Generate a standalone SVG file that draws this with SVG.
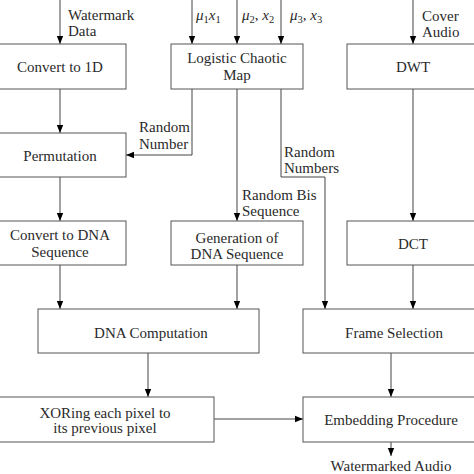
<svg xmlns="http://www.w3.org/2000/svg" width="474" height="474" viewBox="0 0 474 474">
<style>
.box{fill:#fff;stroke:#555;stroke-width:1}
.t{font-family:"Liberation Serif","Times New Roman","DejaVu Serif",serif;font-size:15px;fill:#2a2a2a;text-anchor:middle}
.l{font-family:"Liberation Serif","Times New Roman","DejaVu Serif",serif;font-size:15px;fill:#2a2a2a}
.m{font-family:"Liberation Serif","Times New Roman","DejaVu Serif",serif;font-size:15px;fill:#2a2a2a;font-style:italic}
.s{font-size:10.5px;font-style:normal}
.c{fill:none;stroke:#444;stroke-width:1}
</style>
<defs>
<marker id="ah" markerWidth="8" markerHeight="8" refX="8" refY="4" orient="auto" markerUnits="userSpaceOnUse" viewBox="0 0 8 8">
<path d="M0,0.8 L8,4 L0,7.2 Z" fill="#000"/>
</marker>
</defs>
<rect width="474" height="474" fill="#fff"/>
<g id="connectors">
<path class="c" d="M60,0 V44" marker-end="url(#ah)"/>
<path class="c" d="M192,0 V44" marker-end="url(#ah)"/>
<path class="c" d="M237,0 V44" marker-end="url(#ah)"/>
<path class="c" d="M281,0 V44" marker-end="url(#ah)"/>
<path class="c" d="M413,0 V44" marker-end="url(#ah)"/>
<path class="c" d="M60,89 V133" marker-end="url(#ah)"/>
<path class="c" d="M192,89 V155 H126" marker-end="url(#ah)"/>
<path class="c" d="M237,89 V221" marker-end="url(#ah)"/>
<path class="c" d="M281,89 V177 H325 V309" marker-end="url(#ah)"/>
<path class="c" d="M413,89 V221" marker-end="url(#ah)"/>
<path class="c" d="M60,177 V221" marker-end="url(#ah)"/>
<path class="c" d="M60,265 V309" marker-end="url(#ah)"/>
<path class="c" d="M237,265 V309" marker-end="url(#ah)"/>
<path class="c" d="M413,265 V309" marker-end="url(#ah)"/>
<path class="c" d="M148,353 V397" marker-end="url(#ah)"/>
<path class="c" d="M391,353 V397" marker-end="url(#ah)"/>
<path class="c" d="M214,419 H303" marker-end="url(#ah)"/>
<path class="c" d="M391,442 V456" marker-end="url(#ah)"/>
</g>
<g id="labels">
<text class="l" x="68" y="20">Watermark</text>
<text class="l" x="68" y="36">Data</text>
<text class="m" x="196" y="20">μ<tspan class="s" dy="3">1</tspan><tspan dy="-3">x</tspan><tspan class="s" dy="3">1</tspan></text>
<text class="m" x="242" y="20">μ<tspan class="s" dy="3">2</tspan><tspan dy="-3" font-style="normal">, </tspan><tspan>x</tspan><tspan class="s" dy="3">2</tspan></text>
<text class="m" x="290" y="20">μ<tspan class="s" dy="3">3</tspan><tspan dy="-3" font-style="normal">, </tspan><tspan>x</tspan><tspan class="s" dy="3">3</tspan></text>
<text class="l" x="422" y="21">Cover</text>
<text class="l" x="422" y="37">Audio</text>
<text class="l" x="139" y="132">Random</text>
<text class="l" x="139" y="148.5">Number</text>
<text class="l" x="284" y="157">Random</text>
<text class="l" x="284" y="173">Numbers</text>
<text class="l" x="242" y="200">Random Bis</text>
<text class="l" x="242" y="216">Sequence</text>
<text class="t" x="391" y="471">Watermarked Audio</text>
</g>
<g id="convert1d"><rect class="box" x="-6" y="44" width="132" height="45"/><text class="t" x="60" y="71.5">Convert to 1D</text></g>
<g id="logistic"><rect class="box" x="171" y="44" width="132" height="45"/><text class="t" x="237" y="63">Logistic Chaotic</text><text class="t" x="237" y="80">Map</text></g>
<g id="dwt"><rect class="box" x="347" y="44" width="132" height="45"/><text class="t" x="413" y="71.5">DWT</text></g>
<g id="permutation"><rect class="box" x="-6" y="133" width="132" height="44"/><text class="t" x="60" y="160.5">Permutation</text></g>
<g id="convertdna"><rect class="box" x="-6" y="221" width="132" height="44"/><text class="t" x="60" y="240">Convert to DNA</text><text class="t" x="60" y="256.5">Sequence</text></g>
<g id="gendna"><rect class="box" x="171" y="221" width="132" height="44"/><text class="t" x="237" y="242.5">Generation of</text><text class="t" x="237" y="259">DNA Sequence</text></g>
<g id="dct"><rect class="box" x="347" y="221" width="132" height="44"/><text class="t" x="413" y="249">DCT</text></g>
<g id="dnacomp"><rect class="box" x="38" y="309" width="221" height="44"/><text class="t" x="151" y="337.5">DNA Computation</text></g>
<g id="framesel"><rect class="box" x="303" y="309" width="176" height="44"/><text class="t" x="394" y="337.5">Frame Selection</text></g>
<g id="xoring"><rect class="box" x="-4" y="397" width="218" height="45"/><text class="t" x="105" y="417.5">XORing each pixel to</text><text class="t" x="105" y="433">its previous pixel</text></g>
<g id="embedding"><rect class="box" x="303" y="397" width="176" height="45"/><text class="t" x="391" y="425">Embedding Procedure</text></g>
</svg>
